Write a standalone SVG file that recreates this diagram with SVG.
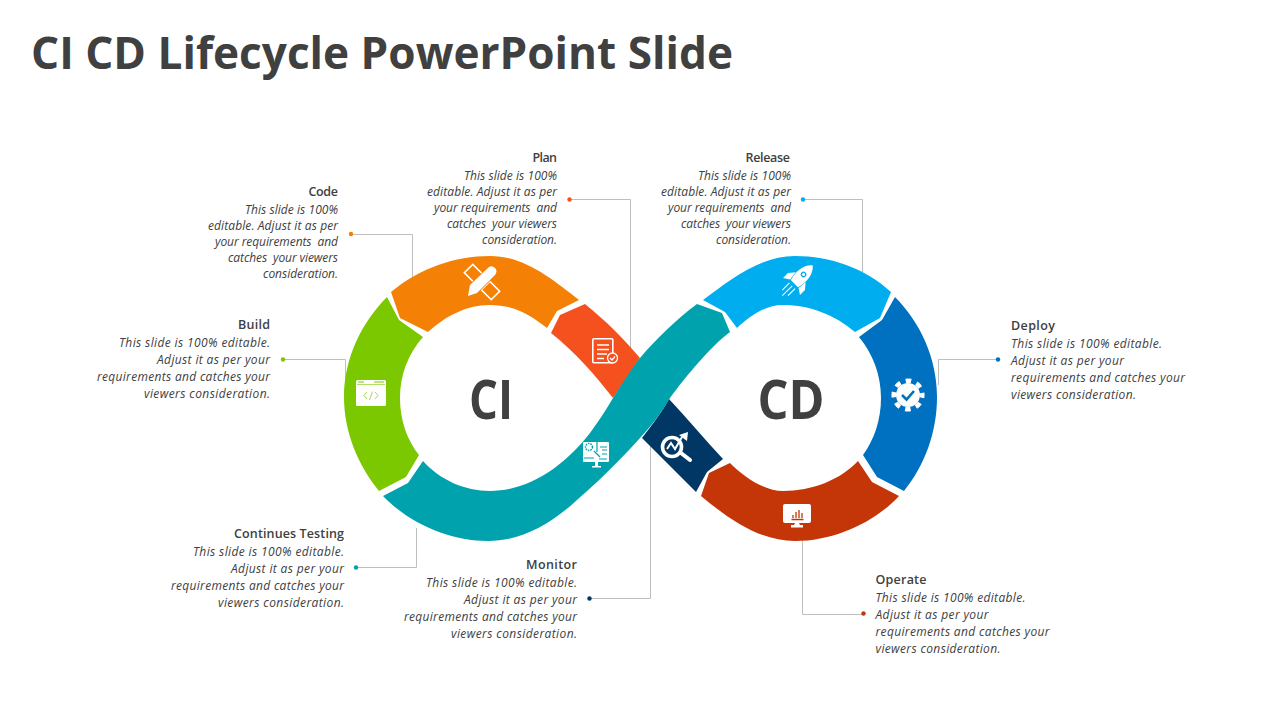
<svg xmlns="http://www.w3.org/2000/svg" width="1280" height="720" viewBox="0 0 1280 720">
<style>
text{font-family:"Open Sans","Liberation Sans",sans-serif;fill:#404040}
.title{font-size:44px;font-weight:700}
.big{font-size:53px;font-weight:700;text-anchor:middle}
.h{font-size:12.5px;font-weight:600}
.b{font-size:12px;font-style:italic;font-weight:400;white-space:pre}
.e{text-anchor:end}
.lead{fill:none;stroke:#bfbfbf;stroke-width:1}
.w{fill:#fff}
.s{fill:none;stroke:#fff;stroke-width:1.6}
</style>
<rect width="1280" height="720" fill="#fff"/>
<text class="title" x="31" y="69" textLength="702" lengthAdjust="spacingAndGlyphs">CI CD Lifecycle PowerPoint Slide</text>

<g id="connectors">
<path class="lead" d="M351,234.500H412.500V278"/><circle cx="351" cy="234" r="2.200" fill="#f48105"/>
<path class="lead" d="M569.500,199.500H630.500V350"/><circle cx="569.500" cy="199.500" r="2.200" fill="#f4511e"/>
<path class="lead" d="M803,199.500H862.500V272"/><circle cx="803" cy="199.500" r="2.200" fill="#00aeef"/>
<path class="lead" d="M283,359.500H345.500V385"/><circle cx="283" cy="359.500" r="2.200" fill="#7ac700"/>
<path class="lead" d="M998,359.500H938.500V385"/><circle cx="998" cy="359.500" r="2.200" fill="#0070c0"/>
<path class="lead" d="M863.500,614.500H802.500V538"/><circle cx="863.500" cy="613.500" r="2.200" fill="#c43507"/>
<path class="lead" d="M356,567.500H416.500V528"/><circle cx="356" cy="567.500" r="2.200" fill="#00a3ad"/>
<path class="lead" d="M589.500,598.500H650.500V440"/><circle cx="589.500" cy="598.500" r="2.200" fill="#003764"/>
</g>

<g id="plan">
<path fill="#f4511e" d="M585,304C605,320 625,340 640,358L613,398C595,375 575,352 551,333L560,315Z"/>
<rect class="s" x="592.800" y="338.800" width="20" height="24" rx="1"/>
<path class="s" d="M597,345H609M597,349.500H609M597,354H607M597,358.500H604"/>
<circle cx="612.500" cy="358" r="5" fill="#f4511e" stroke="#fff" stroke-width="1.300"/>
<path d="M610,358l2,2 3,-3.500" fill="none" stroke="#fff" stroke-width="1.200"/>
<text class="h e" x="557" y="162" textLength="24.500">Plan</text>
<text class="b e" x="557" y="180" textLength="93">This slide is 100%</text>
<text class="b e" x="557" y="196" textLength="130">editable. Adjust it as per</text>
<text class="b e" x="557" y="212" textLength="123">your requirements  and</text>
<text class="b e" x="557" y="228" textLength="110">catches  your viewers</text>
<text class="b e" x="557" y="244" textLength="75">consideration.</text>
</g>

<g id="monitor">
<path fill="#003764" d="M669,399C687,418 705,440 723,459L707,472L696,492C678,474 660,456 642,438C652,425 662,412 669,399Z"/>
<circle cx="672" cy="447" r="9.500" fill="none" stroke="#fff" stroke-width="3.600"/>
<path d="M681,453L690,460" stroke="#fff" stroke-width="4" stroke-linecap="round"/>
<path d="M667,449L671,443L675,449L682,437" fill="none" stroke="#fff" stroke-width="2"/>
<path class="w" d="M679,435L688,432L687,441Z"/>
<text class="h e" x="577" y="569" textLength="51">Monitor</text>
<text class="b e" x="577" y="587" textLength="151">This slide is 100% editable.</text>
<text class="b e" x="577" y="604" textLength="113">Adjust it as per your</text>
<text class="b e" x="577" y="621" textLength="173">requirements and catches your</text>
<text class="b e" x="577" y="638" textLength="126">viewers consideration.</text>
</g>

<g id="code">
<path fill="#f48105" d="M391,292C420,268 455,256 490,256C525,256 553,280 579,300L557,311L547,328C530,315 515,305 490,305C465,305 445,317 428,332L400,318Z"/>
<g transform="translate(482,282) rotate(45)">
<rect class="s" x="-19" y="-6" width="14" height="12" stroke-width="2"/>
<rect class="s" x="5" y="-6" width="14" height="12" stroke-width="2"/>
</g>
<path d="M468,296L470,285L489,267Q492,265 495,268Q498,271 495,275L477,293Z" fill="#fff" stroke="#f48105" stroke-width="1.500" paint-order="stroke"/>
<text class="h e" x="338" y="196" textLength="29.500">Code</text>
<text class="b e" x="338" y="214" textLength="93">This slide is 100%</text>
<text class="b e" x="338" y="230" textLength="130">editable. Adjust it as per</text>
<text class="b e" x="338" y="246" textLength="123">your requirements  and</text>
<text class="b e" x="338" y="262" textLength="110">catches  your viewers</text>
<text class="b e" x="338" y="278" textLength="75">consideration.</text>
</g>

<g id="build">
<path fill="#7cc800" d="M387,297L399,320L423,337C408,354 400,375 400,398C400,420 407,440 419,455L406,477L379,491C358,465 344,432 344,397C344,358 362,322 387,297Z"/>
<rect class="w" x="356" y="380" width="30" height="26" rx="1.500"/>
<path d="M357,384.500H385" stroke="#7cc800" stroke-width=".6"/>
<path d="M358,382H364M374,382H384" stroke="#7cc800" stroke-width="1"/>
<path d="M367,392L364,395.500L367,399M375,392L378,395.500L375,399M372.500,391.500L369.500,400" fill="none" stroke="#a5d95a" stroke-width="1"/>
<text class="h e" x="270" y="329" textLength="32">Build</text>
<text class="b e" x="270" y="347" textLength="151">This slide is 100% editable.</text>
<text class="b e" x="270" y="364" textLength="113">Adjust it as per your</text>
<text class="b e" x="270" y="381" textLength="173">requirements and catches your</text>
<text class="b e" x="270" y="398" textLength="126">viewers consideration.</text>
</g>

<g id="testing">
<path fill="#00a3ad" d="M383,496L408,483L423,461C440,480 465,491 490,491C530,491 565,465 590,433C598,422 606,410 613,398C622,384 632,368 640,358C655,340 678,318 697,304L722,313L730,332C712,345 686,376 670,398C662,412 652,425 640,438C620,460 600,480 577,500C550,525 520,541 488,541C450,541 410,524 383,496Z"/>
<rect class="w" x="583" y="442" width="26" height="20" rx="1"/>
<path class="w" d="M595,462H598V466H601V467.500H592V466H595Z"/>
<circle cx="589" cy="447" r="3.500" fill="none" stroke="#00a3ad" stroke-width="1.500" stroke-dasharray="1.500 1"/>
<path d="M597,442V452M594,451L600,457M600,447H607M602,450H607M602,454H607M584,458H594M599,459H607" stroke="#00a3ad" stroke-width="1.200" fill="none"/>
<text class="h e" x="344" y="538" textLength="110">Continues Testing</text>
<text class="b e" x="344" y="556" textLength="151">This slide is 100% editable.</text>
<text class="b e" x="344" y="573" textLength="113">Adjust it as per your</text>
<text class="b e" x="344" y="590" textLength="173">requirements and catches your</text>
<text class="b e" x="344" y="607" textLength="126">viewers consideration.</text>
</g>

<g id="release">
<path fill="#00aeef" d="M703,300C730,280 760,256 795,256C830,256 865,268 891,292L880,318L855,332C835,315 810,305 783,305C765,305 750,316 737,328L725,312Z"/>
<g transform="translate(800,278) rotate(45)">
<path class="w" d="M0,-18C7,-12 8,-2 5,8H-5C-8,-2 -7,-12 0,-18Z"/>
<path class="w" d="M-7,-1L-12,5V12L-6,8ZM7,-1L12,5V12L6,8Z"/>
<circle cx="0" cy="-5" r="2.800" fill="#00aeef"/><circle cx="0" cy="-5" r="1.500" fill="#fff"/>
<path d="M-4,11V21M0,11V25M4,11V21" stroke="#fff" stroke-width="1.100"/>
</g>
<text class="h e" x="790" y="162" textLength="44.500">Release</text>
<text class="b e" x="791" y="180" textLength="93">This slide is 100%</text>
<text class="b e" x="791" y="196" textLength="130">editable. Adjust it as per</text>
<text class="b e" x="791" y="212" textLength="123">your requirements  and</text>
<text class="b e" x="791" y="228" textLength="110">catches  your viewers</text>
<text class="b e" x="791" y="244" textLength="75">consideration.</text>
</g>

<g id="deploy">
<path fill="#0070c0" d="M895,297C920,322 937,358 937,397C937,432 925,465 904,491L877,477L863,455C874,440 881,420 881,398C881,375 873,354 859,337L882,320Z"/>
<circle class="w" cx="908" cy="395" r="12"/>
<circle cx="908" cy="395" r="14.300" fill="none" stroke="#fff" stroke-width="4.500" stroke-dasharray="5.600 5.630" stroke-dashoffset="2.800"/>
<path d="M902,395L906.500,399.500L914,391" fill="none" stroke="#0070c0" stroke-width="2.600"/>
<text class="h" x="1011" y="330" textLength="44">Deploy</text>
<text class="b" x="1011" y="348" textLength="151">This slide is 100% editable.</text>
<text class="b" x="1011" y="365" textLength="113">Adjust it as per your</text>
<text class="b" x="1011" y="382" textLength="174">requirements and catches your</text>
<text class="b" x="1011" y="399" textLength="125">viewers consideration.</text>
</g>

<g id="operate">
<path fill="#c43507" d="M899,496C875,522 835,541 795,541C760,541 730,520 701,496L709,473L730,463C745,478 765,491 783,491C812,491 840,480 858,461L872,482Z"/>
<rect class="w" x="783" y="504" width="28" height="19" rx="2"/>
<path class="w" d="M795,523H799L800,525H803V527.500H791V525H794Z"/>
<path d="M791.500,519.500H803.500M793,518V515M796,518V512M799,518V510M802,518V513" stroke="#c43507" stroke-width="1.300"/>
<text class="h" x="875.500" y="584" textLength="51">Operate</text>
<text class="b" x="875.500" y="602" textLength="150">This slide is 100% editable.</text>
<text class="b" x="875.500" y="619" textLength="113">Adjust it as per your</text>
<text class="b" x="875.500" y="636" textLength="174">requirements and catches your</text>
<text class="b" x="875.500" y="653" textLength="125">viewers consideration.</text>
</g>

<g id="labels">
<text class="big" x="491" y="419" textLength="44" lengthAdjust="spacingAndGlyphs">CI</text>
<text class="big" x="791" y="419" textLength="67" lengthAdjust="spacingAndGlyphs">CD</text>
</g>
</svg>
